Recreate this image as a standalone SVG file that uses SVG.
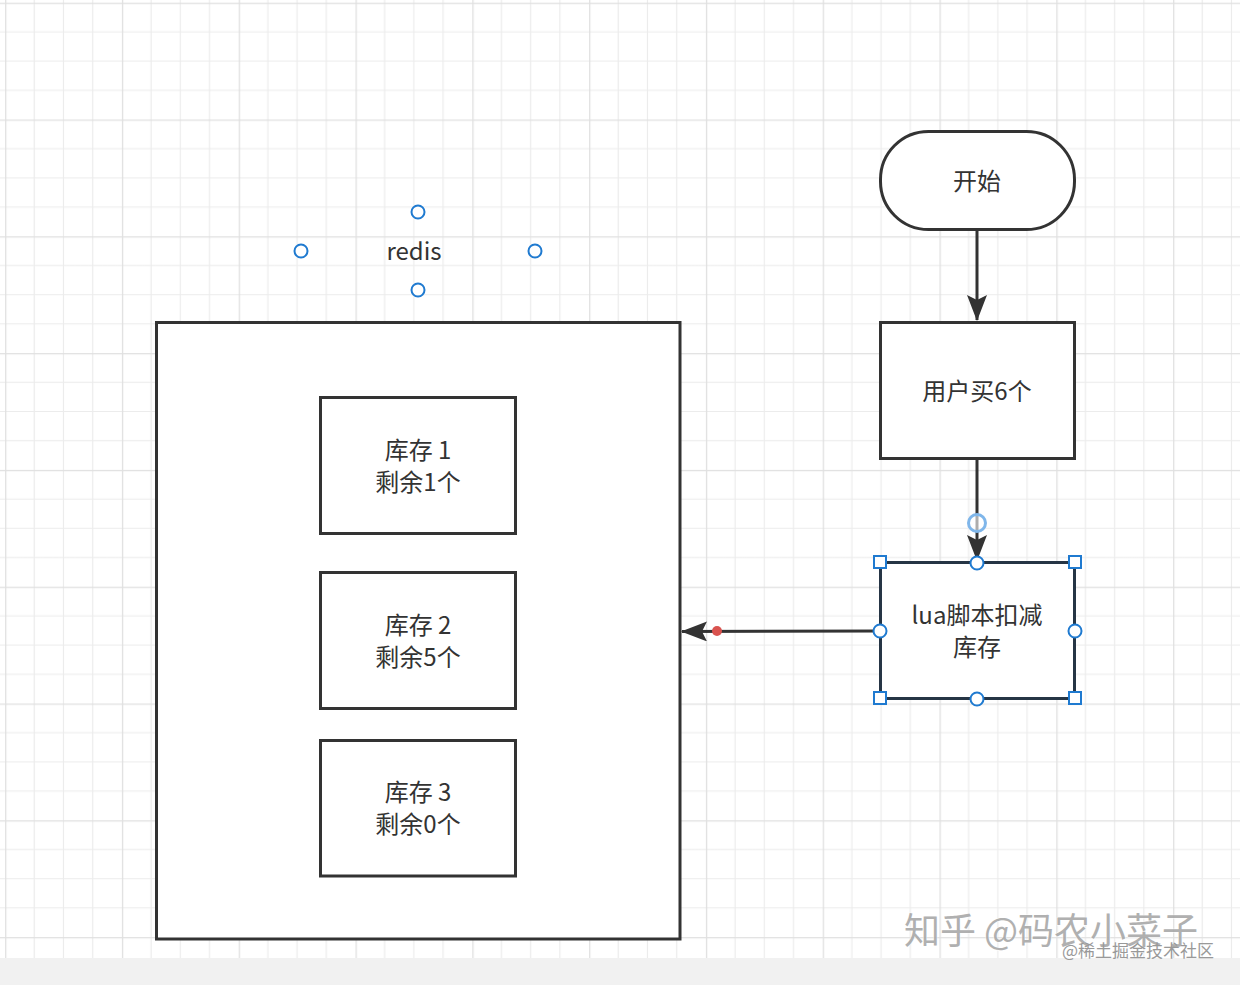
<svg xmlns="http://www.w3.org/2000/svg" width="1240" height="985" viewBox="0 0 1240 985">
<style>
.box{fill:#ffffff;stroke:#333333;stroke-width:3}
.lbl{font-family:"Noto Sans CJK SC","Noto Sans",sans-serif;font-size:24px;fill:#333333;text-anchor:middle}
.conn{stroke:#333333;stroke-width:3;fill:none}
.hc{fill:#ffffff;stroke:#1f7ad0;stroke-width:2}
.hs{fill:#ffffff;stroke:#1f7ad0;stroke-width:2}
</style>
<defs>
<pattern id="grid" patternUnits="userSpaceOnUse" x="5.1" y="2.7" width="116.8" height="116.8">
<path d="M29.2 0V116.8M58.4 0V116.8M87.6 0V116.8M0 29.2H116.8M0 58.4H116.8M0 87.6H116.8" stroke="#ececec" stroke-width="1.2" fill="none"/>
<path d="M0.5 0V116.8M0 0.5H116.8" stroke="#e0e0e0" stroke-width="1.6" fill="none"/>
</pattern>
<marker id="arr" viewBox="0 0 26 20" refX="25" refY="10" markerWidth="26" markerHeight="20" markerUnits="userSpaceOnUse" orient="auto">
<path d="M0 0L26 10L0 20L5 10Z" fill="#333333"/>
</marker>
</defs>
<rect x="0" y="0" width="1240" height="985" fill="#ffffff"/>
<rect x="0" y="0" width="1240" height="958" fill="url(#grid)"/>
<rect x="0" y="958" width="1240" height="27" fill="#f1f1f1"/>

<g id="connectors">
<line class="conn" x1="977" y1="230" x2="977" y2="320" marker-end="url(#arr)"/>
<line class="conn" x1="977" y1="459" x2="977" y2="560" marker-end="url(#arr)"/>
<line class="conn" x1="880" y1="631" x2="682" y2="631.5" marker-end="url(#arr)"/>
<circle cx="717" cy="631" r="5" fill="#d9534f"/>
<circle cx="977" cy="523" r="8.5" fill="#ffffff" fill-opacity="0.6" stroke="#7fb6ea" stroke-width="3"/>
</g>

<g id="redis-label">
<text class="lbl" x="414" y="260">redis</text>
<circle class="hc" cx="418" cy="212" r="6.5"/>
<circle class="hc" cx="301" cy="251" r="6.5"/>
<circle class="hc" cx="535" cy="251" r="6.5"/>
<circle class="hc" cx="418" cy="290" r="6.5"/>
</g>

<g id="redis">
<rect class="box" x="156.5" y="322.5" width="523.5" height="616.5"/>
</g>

<g id="stock1">
<rect class="box" x="320.5" y="397.5" width="195" height="136"/>
<text class="lbl" x="418" y="459">库存 1</text>
<text class="lbl" x="418" y="491">剩余1个</text>
</g>
<g id="stock2">
<rect class="box" x="320.5" y="572.5" width="195" height="136"/>
<text class="lbl" x="418" y="634">库存 2</text>
<text class="lbl" x="418" y="666">剩余5个</text>
</g>
<g id="stock3">
<rect class="box" x="320.5" y="740.5" width="195" height="135.5"/>
<text class="lbl" x="418" y="801">库存 3</text>
<text class="lbl" x="418" y="833">剩余0个</text>
</g>

<g id="start">
<rect class="box" x="880.5" y="131.5" width="194" height="98" rx="48" ry="48"/>
<text class="lbl" x="977" y="190">开始</text>
</g>

<g id="buy">
<rect class="box" x="880.5" y="322.5" width="194" height="136"/>
<text class="lbl" x="977" y="400">用户买6个</text>
</g>

<g id="lua">
<rect x="880.5" y="562.5" width="194" height="136" fill="#ffffff" stroke="#263545" stroke-width="3"/>
<text class="lbl" x="977" y="624">lua脚本扣减</text>
<text class="lbl" x="977" y="656">库存</text>
<rect class="hs" x="874" y="556" width="12" height="12"/>
<rect class="hs" x="1069" y="556" width="12" height="12"/>
<rect class="hs" x="874" y="692" width="12" height="12"/>
<rect class="hs" x="1069" y="692" width="12" height="12"/>
<circle class="hc" cx="977" cy="563" r="6.5"/>
<circle class="hc" cx="880" cy="631" r="6.5"/>
<circle class="hc" cx="1075" cy="631" r="6.5"/>
<circle class="hc" cx="977" cy="699" r="6.5"/>
</g>

<g id="watermark" font-family="Noto Sans CJK SC, sans-serif">
<text x="904" y="944" font-size="36" fill="#a8a8a8" stroke="#ffffff" stroke-width="1" paint-order="stroke" opacity="0.9">知乎 @码农小菜子</text>
<text x="1062" y="957" font-size="17" fill="#999999">@稀土掘金技术社区</text>
</g>
</svg>
